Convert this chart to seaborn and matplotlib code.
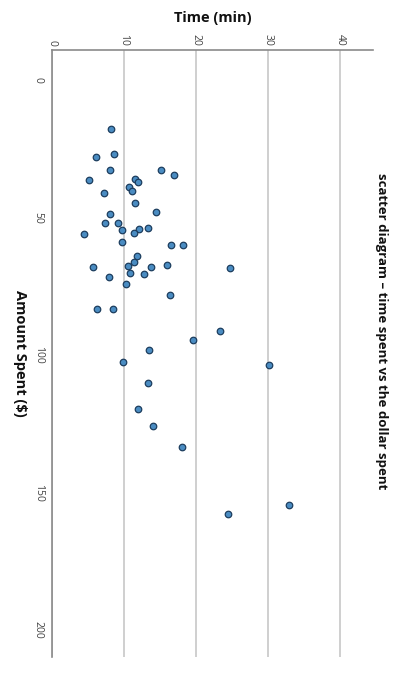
import matplotlib
matplotlib.use("Agg")
import matplotlib.pyplot as plt
import seaborn as sns
import pandas as pd

# time spent in the shop (minutes)
time_min = [8.2, 8.6, 6.1, 8.1, 15.2, 17.0, 5.1, 11.5, 11.9, 10.7,
            11.1, 7.2, 11.5, 14.4, 8.1, 7.4, 9.2, 9.7, 12.1, 13.4,
            11.4, 4.4, 9.7, 16.6, 18.2, 11.8, 11.4, 10.6, 5.7, 13.8,
            16.0, 10.9, 12.8, 7.9, 10.3, 16.4, 6.3, 8.5, 19.6, 13.5,
            9.8, 13.4, 11.9, 14.1, 18.1, 24.8, 23.4, 30.2, 24.5, 32.9]
# dollars spent
amount = [17.9, 26.8, 28.0, 32.7, 32.7, 34.7, 36.5, 36.0, 37.1, 39.0,
          40.5, 41.1, 44.6, 48.0, 48.6, 52.0, 51.9, 54.5, 54.3, 53.8,
          55.5, 55.9, 59.0, 59.9, 59.9, 64.0, 66.2, 67.5, 68.1, 67.9,
          67.2, 70.1, 70.7, 71.5, 74.1, 78.3, 83.4, 83.4, 94.4, 98.3,
          102.6, 110.1, 119.6, 125.7, 133.5, 68.5, 91.2, 103.7, 157.7, 154.4]

time_ticks = [0, 10, 20, 30, 40]
amount_ticks = [0, 50, 100, 150, 200]

df = pd.DataFrame({"time": time_min, "amount": amount})

sns.set_style("white")
plt.rcParams["font.family"] = ["Open Sans", "DejaVu Sans"]

fig = plt.figure(figsize=(3.98, 7.0), dpi=100)
ax = fig.add_axes([52 / 398, 1 - 657 / 700, (373 - 52) / 398, (657 - 50) / 700])

# chart is drawn turned a quarter clockwise: time runs across, amount runs down
sns.scatterplot(data=df, x="time", y="amount", ax=ax, s=22,
                color="#4a8cc2", edgecolor="#1d3d5e", linewidth=0.9, zorder=3)

ax.set_xlim(0, 44.6)
ax.set_ylim(209.8, -10.9)
ax.set_xticks(time_ticks)
ax.set_yticks(amount_ticks)
ax.xaxis.tick_top()
ax.grid(axis="x", color="#cfcfcf", linewidth=1.4)
ax.grid(axis="y", visible=False)

for side in ["right", "bottom"]:
    ax.spines[side].set_visible(False)
for side in ["left", "top"]:
    ax.spines[side].set_color("#8a8a8a")
    ax.spines[side].set_linewidth(1.2)

ax.tick_params(axis="x", length=0, pad=3, labelsize=7.5, labelcolor="#444444", labelrotation=-90)
ax.tick_params(axis="y", length=0, pad=6, labelsize=7.5, labelcolor="#444444", labelrotation=-90)
for lab in ax.get_yticklabels():
    lab.set_va("center")
for lab in ax.get_xticklabels():
    lab.set_ha("center")

ax.set_xlabel("")
ax.set_ylabel("")
fig.text(213 / 398, 1 - 18 / 700, "Time (min)", ha="center", va="center",
         fontsize=10.5, fontweight="bold", color="#111111")
fig.text(20 / 398, 1 - 353 / 700, "Amount Spent ($)", ha="center", va="center",
         rotation=-90, fontsize=10.5, fontweight="bold", color="#111111")
fig.text(381 / 398, 1 - 331 / 700, "scatter diagram \u2013 time spent vs the dollar spent",
         ha="center", va="center", rotation=-90, fontsize=9.5, fontweight="bold", color="#111111")

fig.savefig("out.png", dpi=100)
